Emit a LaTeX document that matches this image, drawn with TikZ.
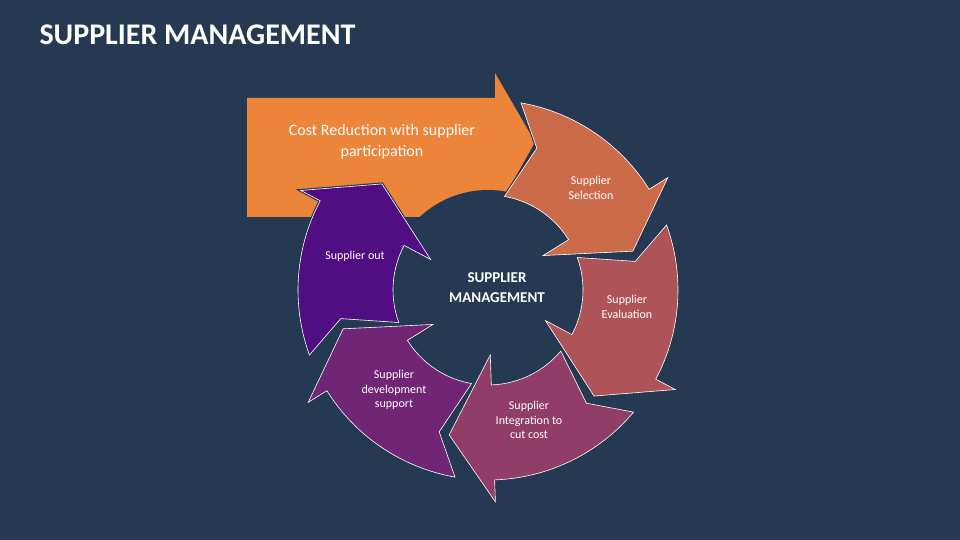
\documentclass[tikz,border=0pt]{standalone}
\usepackage{fontspec}
\setmainfont{Carlito}
\usetikzlibrary{calc}
\definecolor{bg}{HTML}{253A52}
\definecolor{corange}{HTML}{EC853A}
\definecolor{csel}{HTML}{CC6B4A}
\definecolor{ceval}{HTML}{AE5459}
\definecolor{cint}{HTML}{903D67}
\definecolor{cdev}{HTML}{702675}
\definecolor{cout}{HTML}{500E82}
\newcommand\segshape[2]{%
  \pgfmathsetmacro\sT{#1+48}\pgfmathsetmacro\sN{#1+39}\pgfmathsetmacro\sP{#1-17}%
  \path[draw=bg,line width=3pt] ($(C)+(\sT:190)$) arc[start angle=\sT,end angle=#1,radius=190] -- ($(C)+(#1:212)$) -- ($(C)+(\sP:150)$) -- ($(C)+(#1:65)$) -- ($(C)+(#1:95)$) arc[start angle=#1,end angle=\sT,radius=95] -- ($(C)+(\sN:150)$) -- cycle;
  \path[fill=#2,draw=white!75,line width=0.6pt] ($(C)+(\sT:190)$) arc[start angle=\sT,end angle=#1,radius=190] -- ($(C)+(#1:212)$) -- ($(C)+(\sP:150)$) -- ($(C)+(#1:65)$) -- ($(C)+(#1:95)$) arc[start angle=#1,end angle=\sT,radius=95] -- ($(C)+(\sN:150)$) -- cycle;}
\tikzset{lbl/.style={text=white,align=center,font=\fontsize{12}{14.5}\selectfont}}
\begin{document}
\begin{tikzpicture}[x=1pt,y=1pt]
\fill[bg] (0,0) rectangle (960,540);
\useasboundingbox (0,0) rectangle (960,540);
\coordinate (C) at (488,250);
\node[anchor=west,text=white,font=\fontsize{30}{32}\bfseries\selectfont] (title) at (36,505) {SUPPLIER MANAGEMENT};
\fill[corange] (247,442) -- (495,442) -- (495,467) -- (535,398) -- (492,321) -- (492,323) -- (247,323) -- cycle;
\fill[bg] (C) circle[radius=100];
\segshape{32}{csel}
\segshape{-28}{ceval}
\segshape{-88}{cint}
\segshape{-148}{cdev}
\segshape{152}{cout}
\node[lbl,font=\fontsize{16}{21}\selectfont] (cost) at (382,398) {Cost Reduction with supplier\\participation};
\node[lbl] (sel) at (591,352) {Supplier\\Selection};
\node[lbl] (eval) at (627,233) {Supplier\\Evaluation};
\node[lbl] (int) at (529,120) {Supplier\\Integration to\\cut cost};
\node[lbl] (dev) at (394,150) {Supplier\\development\\support};
\node[lbl] (out) at (355,284) {Supplier out};
\node[lbl,font=\fontsize{15}{20}\bfseries\selectfont] (center) at (497,252) {SUPPLIER\\MANAGEMENT};
\end{tikzpicture}
\end{document}
